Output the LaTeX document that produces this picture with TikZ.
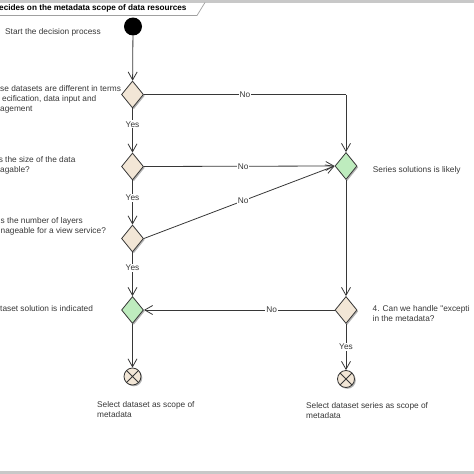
\documentclass[tikz,border=0pt]{standalone}
\usepackage{fontspec}
\newfontfamily\lsans{Liberation Sans}
\usetikzlibrary{shapes.geometric,arrows.meta,shadows}
\definecolor{beige}{RGB}{242,230,214}
\definecolor{mint}{RGB}{190,236,190}
\definecolor{ln}{RGB}{55,55,55}
\definecolor{txt}{RGB}{55,55,55}
\definecolor{framec}{RGB}{200,200,200}
\begin{document}
\begin{tikzpicture}[x=1pt,y=-1pt,
  dec/.style={diamond, draw=ln, line width=0.8pt, fill=beige, minimum width=22pt, minimum height=27pt, inner sep=0pt, aspect=0.8,
    drop shadow={shadow xshift=1.3pt,shadow yshift=-1.3pt,opacity=0.3,fill=black}},
  merge/.style={dec, fill=mint},
  startn/.style={circle, fill=black, minimum size=18pt, inner sep=0pt},
  endn/.style={circle, draw=ln, line width=0.8pt, fill=beige, minimum size=17pt, inner sep=0pt,
    drop shadow={shadow xshift=1.3pt,shadow yshift=-1.3pt,opacity=0.3,fill=black},
    path picture={\draw[ln, line width=0.8pt] (path picture bounding box.north west) -- (path picture bounding box.south east)
      (path picture bounding box.north east) -- (path picture bounding box.south west);}},
  txtn/.style={font=\lsans\fontsize{8.3}{10}\selectfont, text=txt, inner sep=0pt, align=left},
  titlen/.style={font=\lsans\bfseries\fontsize{8.2}{10}\selectfont, text=black, inner sep=0pt},
  lbl/.style={font=\lsans\fontsize{8.3}{10}\selectfont, text=txt, fill=white, inner sep=1pt},
  flow/.style={draw=ln, line width=0.8pt, -{Straight Barb[length=8pt,width=9pt]}},
  plain/.style={draw=ln, line width=0.8pt}
]
\useasboundingbox (0,0) rectangle (474,474);
\clip (0,0) rectangle (474,474);
% frame
\fill[framec] (0,0) rectangle (474,2.5);
\fill[framec] (0,471) rectangle (474,474);
\draw[framec!80!black, line width=0.7pt] (0,15.5) -- (197,15.5) -- (205,2.5);
\node[titlen, anchor=west] (title) at (-1,8.8) {ecides on the metadata scope of data resources};

% nodes
\node[startn] (start) at (133,26.5) {};
\node[dec] (d1) at (132.5,94.5) {};
\node[dec] (d2) at (132.5,166.5) {};
\node[dec] (d3) at (132.5,238.5) {};
\node[merge] (d4) at (132.5,310) {};
\node[endn] (e1) at (132.5,376.5) {};
\node[merge] (d5) at (346,166) {};
\node[dec] (d6) at (346,310) {};
\node[endn] (e2) at (346,379) {};
\coordinate (c1) at (346,94.5);

% texts
\node[txtn, anchor=west] (tstart) at (5,32) {Start the decision process};
\node[txtn, anchor=west] (t1) at (0,99.3) {se datasets are different in terms\\\hspace*{2pt}ecification, data input and\\agement};
\node[txtn, anchor=west] (t2) at (-1.4,165) {s the size of the data\\\hspace*{1.4pt}agable?};
\node[txtn, anchor=west] (t3) at (0.5,226.4) {s the number of layers\\nageable for a view service?};
\node[txtn, anchor=west] (t4) at (0,309) {taset solution is indicated};
\node[txtn, anchor=west] (te1) at (97,409.7) {Select dataset as scope of\\metadata};
\node[txtn, anchor=west] (t5) at (372.7,170.7) {Series solutions is likely};
\node[txtn, anchor=west] (t6) at (372.5,313.5) {4. Can we handle "excepti\\in the metadata?};
\node[txtn, anchor=west] (te2) at (306,410.3) {Select dataset series as scope of\\metadata};

% connectors
\draw[flow] (start) -- (d1);
\draw[plain] (d1.east) -- node[lbl, pos=0.5]{No} (c1);
\draw[flow] (c1) -- (d5.north);
\draw[flow] (d1) -- node[lbl, pos=0.36]{Yes} (d2);
\draw[flow] (d2.east) -- node[lbl, pos=0.52]{No} (d5.west);
\draw[flow] (d2) -- node[lbl, pos=0.4]{Yes} (d3);
\draw[flow] (d3.east) -- node[lbl, pos=0.52]{No} (d5.west);
\draw[flow] (d3) -- node[lbl, pos=0.35]{Yes} (d4);
\draw[flow] (d5) -- (d6);
\draw[flow] (d6.west) -- node[lbl, pos=0.33]{No} (d4.east);
\draw[flow] (d4) -- (e1);
\draw[flow] (d6) -- node[lbl, pos=0.5]{Yes} (e2);
\end{tikzpicture}
\end{document}
